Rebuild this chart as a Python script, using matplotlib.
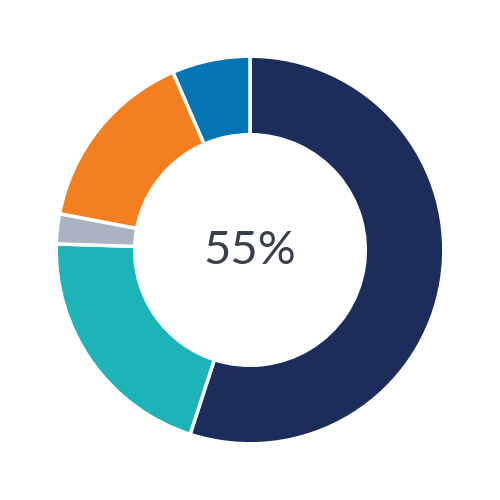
import matplotlib
matplotlib.use("Agg")
import matplotlib.pyplot as plt

labels = ["Navy", "Teal", "Gray", "Orange", "Blue"]
values = [55, 20.5, 2.5, 15.5, 6.5]
colors = ["#1c2c5b", "#1cb4b7", "#a9b3c1", "#f47f21", "#0474b5"]
center_text = "55%"

fig = plt.figure(figsize=(5, 5), dpi=100)
ax = fig.add_axes([0, 0, 1, 1])
ax.pie(values, colors=colors, startangle=90, counterclock=False,
       radius=1.0,
       wedgeprops=dict(width=0.405, edgecolor="white", linewidth=2.5))
ax.set_xlim(-1.29, 1.29)
ax.set_ylim(-1.29, 1.29)
ax.set_aspect("equal")
ax.axis("off")
ax.text(0, -0.005, center_text, ha="center", va="center", fontsize=34,
        family="Lato", color="#3a4049")
fig.savefig("out.png", dpi=100, facecolor="white")
